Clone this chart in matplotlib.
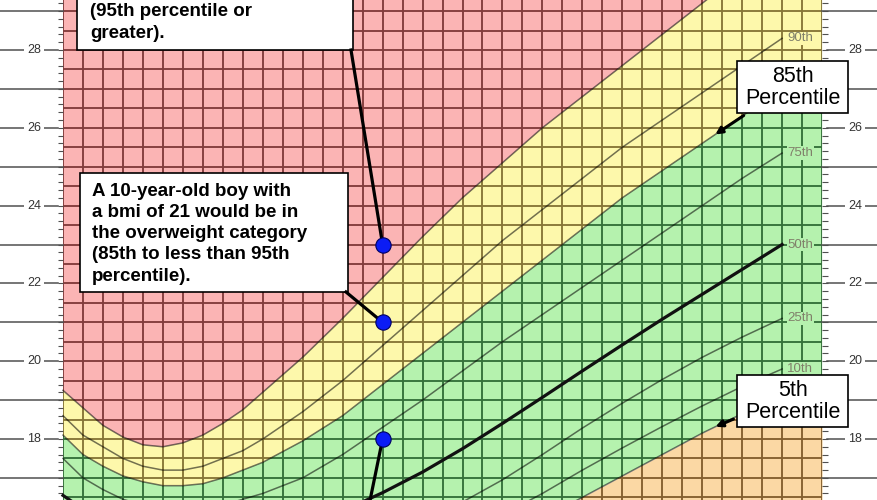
import numpy as np
import matplotlib
matplotlib.use('Agg')
import matplotlib.pyplot as plt
from matplotlib.collections import LineCollection
from matplotlib.patches import Rectangle

plt.rcParams['font.family'] = ['Liberation Sans', 'DejaVu Sans']

# ages (years) and BMI percentiles for boys
ages = [2, 2.5, 3, 3.5, 4, 4.5, 5, 5.5, 6, 6.5, 7, 8, 9, 10, 11, 12, 13, 14, 15, 16, 17, 18, 19, 20]
p95 = [19.25, 18.8, 18.35, 18.05, 17.85, 17.8, 17.9, 18.1, 18.4, 18.75, 19.2, 20.1, 21.1, 22.15, 23.2, 24.2, 25.1, 26.0, 26.8, 27.6, 28.4, 29.2, 30.0, 30.7]
p90 = [18.6, 18.1, 17.8, 17.5, 17.3, 17.2, 17.2, 17.3, 17.5, 17.7, 18.0, 18.7, 19.5, 20.4, 21.3, 22.2, 23.1, 23.9, 24.7, 25.5, 26.2, 26.9, 27.6, 28.3]
p85 = [18.1, 17.6, 17.3, 17.05, 16.9, 16.8, 16.8, 16.85, 17.0, 17.2, 17.4, 17.95, 18.6, 19.4, 20.2, 21.0, 21.8, 22.6, 23.4, 24.2, 24.9, 25.6, 26.3, 27.0]
p75 = [17.5, 17.0, 16.7, 16.45, 16.3, 16.2, 16.2, 16.2, 16.3, 16.45, 16.6, 17.0, 17.6, 18.3, 19.0, 19.75, 20.5, 21.2, 21.9, 22.6, 23.3, 24.0, 24.7, 25.35]
p50 = [16.55, 16.2, 16.0, 15.8, 15.65, 15.5, 15.45, 15.4, 15.4, 15.45, 15.5, 15.75, 16.15, 16.62, 17.15, 17.75, 18.4, 19.07, 19.75, 20.42, 21.08, 21.72, 22.36, 23.0]
p25 = [15.9, 15.6, 15.35, 15.15, 15.0, 14.85, 14.75, 14.7, 14.65, 14.65, 14.7, 14.85, 15.1, 15.5, 15.9, 16.38, 16.95, 17.6, 18.28, 18.92, 19.53, 20.1, 20.62, 21.1]
p10 = [15.2, 14.95, 14.7, 14.5, 14.35, 14.2, 14.1, 14.05, 14.0, 14.0, 14.05, 14.15, 14.4, 14.7, 15.1, 15.55, 16.05, 16.6, 17.2, 17.77, 18.32, 18.85, 19.35, 19.8]
p5 = [14.8, 14.6, 14.4, 14.2, 14.0, 13.9, 13.8, 13.75, 13.7, 13.7, 13.7, 13.8, 14.0, 14.25, 14.6, 15.0, 15.45, 15.95, 16.5, 17.05, 17.6, 18.15, 18.65, 19.15]

curve_names = ['90th', '75th', '50th', '25th', '10th']
curve_vals = [p90, p75, p50, p25, p10]

# example boy, age 10
dot_age = 10
dot_bmi = [23, 21, 18]

box1_lines = ['(95th percentile or', 'greater).']
box2_lines = ['A 10-year-old boy with', 'a bmi of 21 would be in',
              'the overweight category', '(85th to less than 95th',
              'percentile).']

# pixel layout of the original chart (877 x 500)
PX_YR = 39.95
PX_BMI = 38.9
def ax_x(px):
    return 2 + (px - 63) / PX_YR
def ax_y(py):
    return 28 - (py - 50) / PX_BMI

fig = plt.figure(figsize=(8.77, 5.0), dpi=100)
ax = fig.add_axes([0, 0, 1, 1])
ax.set_xlim(ax_x(0), ax_x(877))
ax.set_ylim(ax_y(500), ax_y(0))
ax.axis('off')

a_ext = np.array(ages + [21.0])
def ext(v):
    return np.array(v + [v[-1]])

bands = [
    (np.full(len(a_ext), 10.0), ext(p5), '#fbd8a4', '#85602f'),
    (ext(p5), ext(p85), '#b5f2ae', '#35723a'),
    (ext(p85), ext(p95), '#fdf8ab', '#877637'),
    (ext(p95), np.full(len(a_ext), 40.0), '#fbb4b4', '#833c3c'),
]

vx = np.arange(2, 21.01, 0.5)
hy = np.arange(14, 32.01, 0.5)
segs = [[(x, 10), (x, 40)] for x in vx] + [[(2, y), (21, y)] for y in hy]

for lo, hi, fc, gc in bands:
    poly = ax.fill_between(a_ext, lo, hi, color=fc, lw=0, zorder=1)
    grid = LineCollection(segs, colors=gc, linewidths=1.35, zorder=2)
    ax.add_collection(grid)
    grid.set_clip_path(poly.get_paths()[0], transform=ax.transData)

# percentile curves
for v in [p95, p90, p85, p75, p25, p10, p5]:
    ax.plot(ages, v, color='black', alpha=0.55, lw=1.1, zorder=3)
ax.plot(ages, p50, color='#111111', lw=2.3, zorder=3)

band_col = {'90th': '#fdf8ab', '75th': '#b5f2ae', '50th': '#b5f2ae',
            '25th': '#b5f2ae', '10th': '#b5f2ae'}
for name, v in zip(curve_names, curve_vals):
    ax.text(20.13, v[-1], name, fontsize=9.5, color='#80806a', ha='left', va='center',
            zorder=4, bbox=dict(boxstyle='square,pad=0.05', fc=band_col[name], ec='none'))

# margins: lines and labels
xl, xr = ax.get_xlim()
for b in range(17, 30):
    if b % 2:
        ax.plot([xl, 2], [b, b], color='#505050', lw=1.1, zorder=2)
        ax.plot([21, xr], [b, b], color='#505050', lw=1.1, zorder=2)
    else:
        ax.plot([xl, ax_x(58)], [b, b], color='#505050', lw=1.1, zorder=2)
        ax.plot([ax_x(827), xr], [b, b], color='#505050', lw=1.1, zorder=2)
        for px in (34, 855):
            ax.text(ax_x(px), b, str(b), fontsize=9, color='#333333', ha='center',
                    va='center', zorder=3,
                    bbox=dict(boxstyle='square,pad=0.25', fc='white', ec='none'))
ticks = np.arange(16.2, 29.4, 0.2)
tsegs = [[(ax_x(58), t), (2, t)] for t in ticks] + [[(21, t), (ax_x(828), t)] for t in ticks]
ax.add_collection(LineCollection(tsegs, colors='#505050', linewidths=0.8, zorder=2))

# text boxes
ax.add_patch(Rectangle((ax_x(77), ax_y(50)), ax_x(353) - ax_x(77), 3,
                       fc='white', ec='black', lw=1.2, zorder=5))
for i, t in enumerate(box1_lines):
    ax.text(ax_x(90), ax_y(12 + 21 * i), t, fontsize=13.5, fontweight='bold',
            ha='left', va='center', zorder=6)

ax.add_patch(Rectangle((ax_x(80), ax_y(292)), ax_x(348) - ax_x(80), ax_y(173) - ax_y(292),
                       fc='white', ec='black', lw=1.2, zorder=5))
for i, t in enumerate(box2_lines):
    ax.text(ax_x(92), ax_y(191 + 21.3 * i), t, fontsize=13.5, fontweight='bold',
            ha='left', va='center', zorder=6)

for lab1, y0, y1 in [('85th', 61, 113), ('5th', 375, 427)]:
    ax.add_patch(Rectangle((ax_x(737), ax_y(y1)), ax_x(848) - ax_x(737), ax_y(y0) - ax_y(y1),
                           fc='white', ec='black', lw=1.2, zorder=5))
    ax.text(ax_x(793), ax_y(y0 + 16), lab1, fontsize=15.5, ha='center', va='center', zorder=6)
    ax.text(ax_x(793), ax_y(y0 + 37), 'Percentile', fontsize=15.5, ha='center', va='center', zorder=6)

# arrows to the 85th and 5th curves
tip = 18.27
ax.annotate('', xy=(tip, np.interp(tip, ages, p85)), xytext=(ax_x(746), ax_y(114)),
            arrowprops=dict(arrowstyle='-|>', color='black', lw=2.2, mutation_scale=10), zorder=6)
ax.annotate('', xy=(tip, np.interp(tip, ages, p5)), xytext=(ax_x(736), ax_y(418)),
            arrowprops=dict(arrowstyle='-|>', color='black', lw=2.2, mutation_scale=10), zorder=6)

# leader lines and dots
ax.plot([ax_x(351), dot_age], [ax_y(50), dot_bmi[0]], color='black', lw=2.3, zorder=6)
ax.plot([ax_x(346), dot_age], [ax_y(292), dot_bmi[1]], color='black', lw=2.3, zorder=6)
ax.plot([dot_age, ax_x(366)], [dot_bmi[2], ax_y(520)], color='black', lw=2.3, zorder=6)
ax.plot([dot_age] * 3, dot_bmi, 'o', ms=11, color='#0b1cf5', mec='#000060', mew=0.8, zorder=7)

fig.savefig('out.png', dpi=100)
